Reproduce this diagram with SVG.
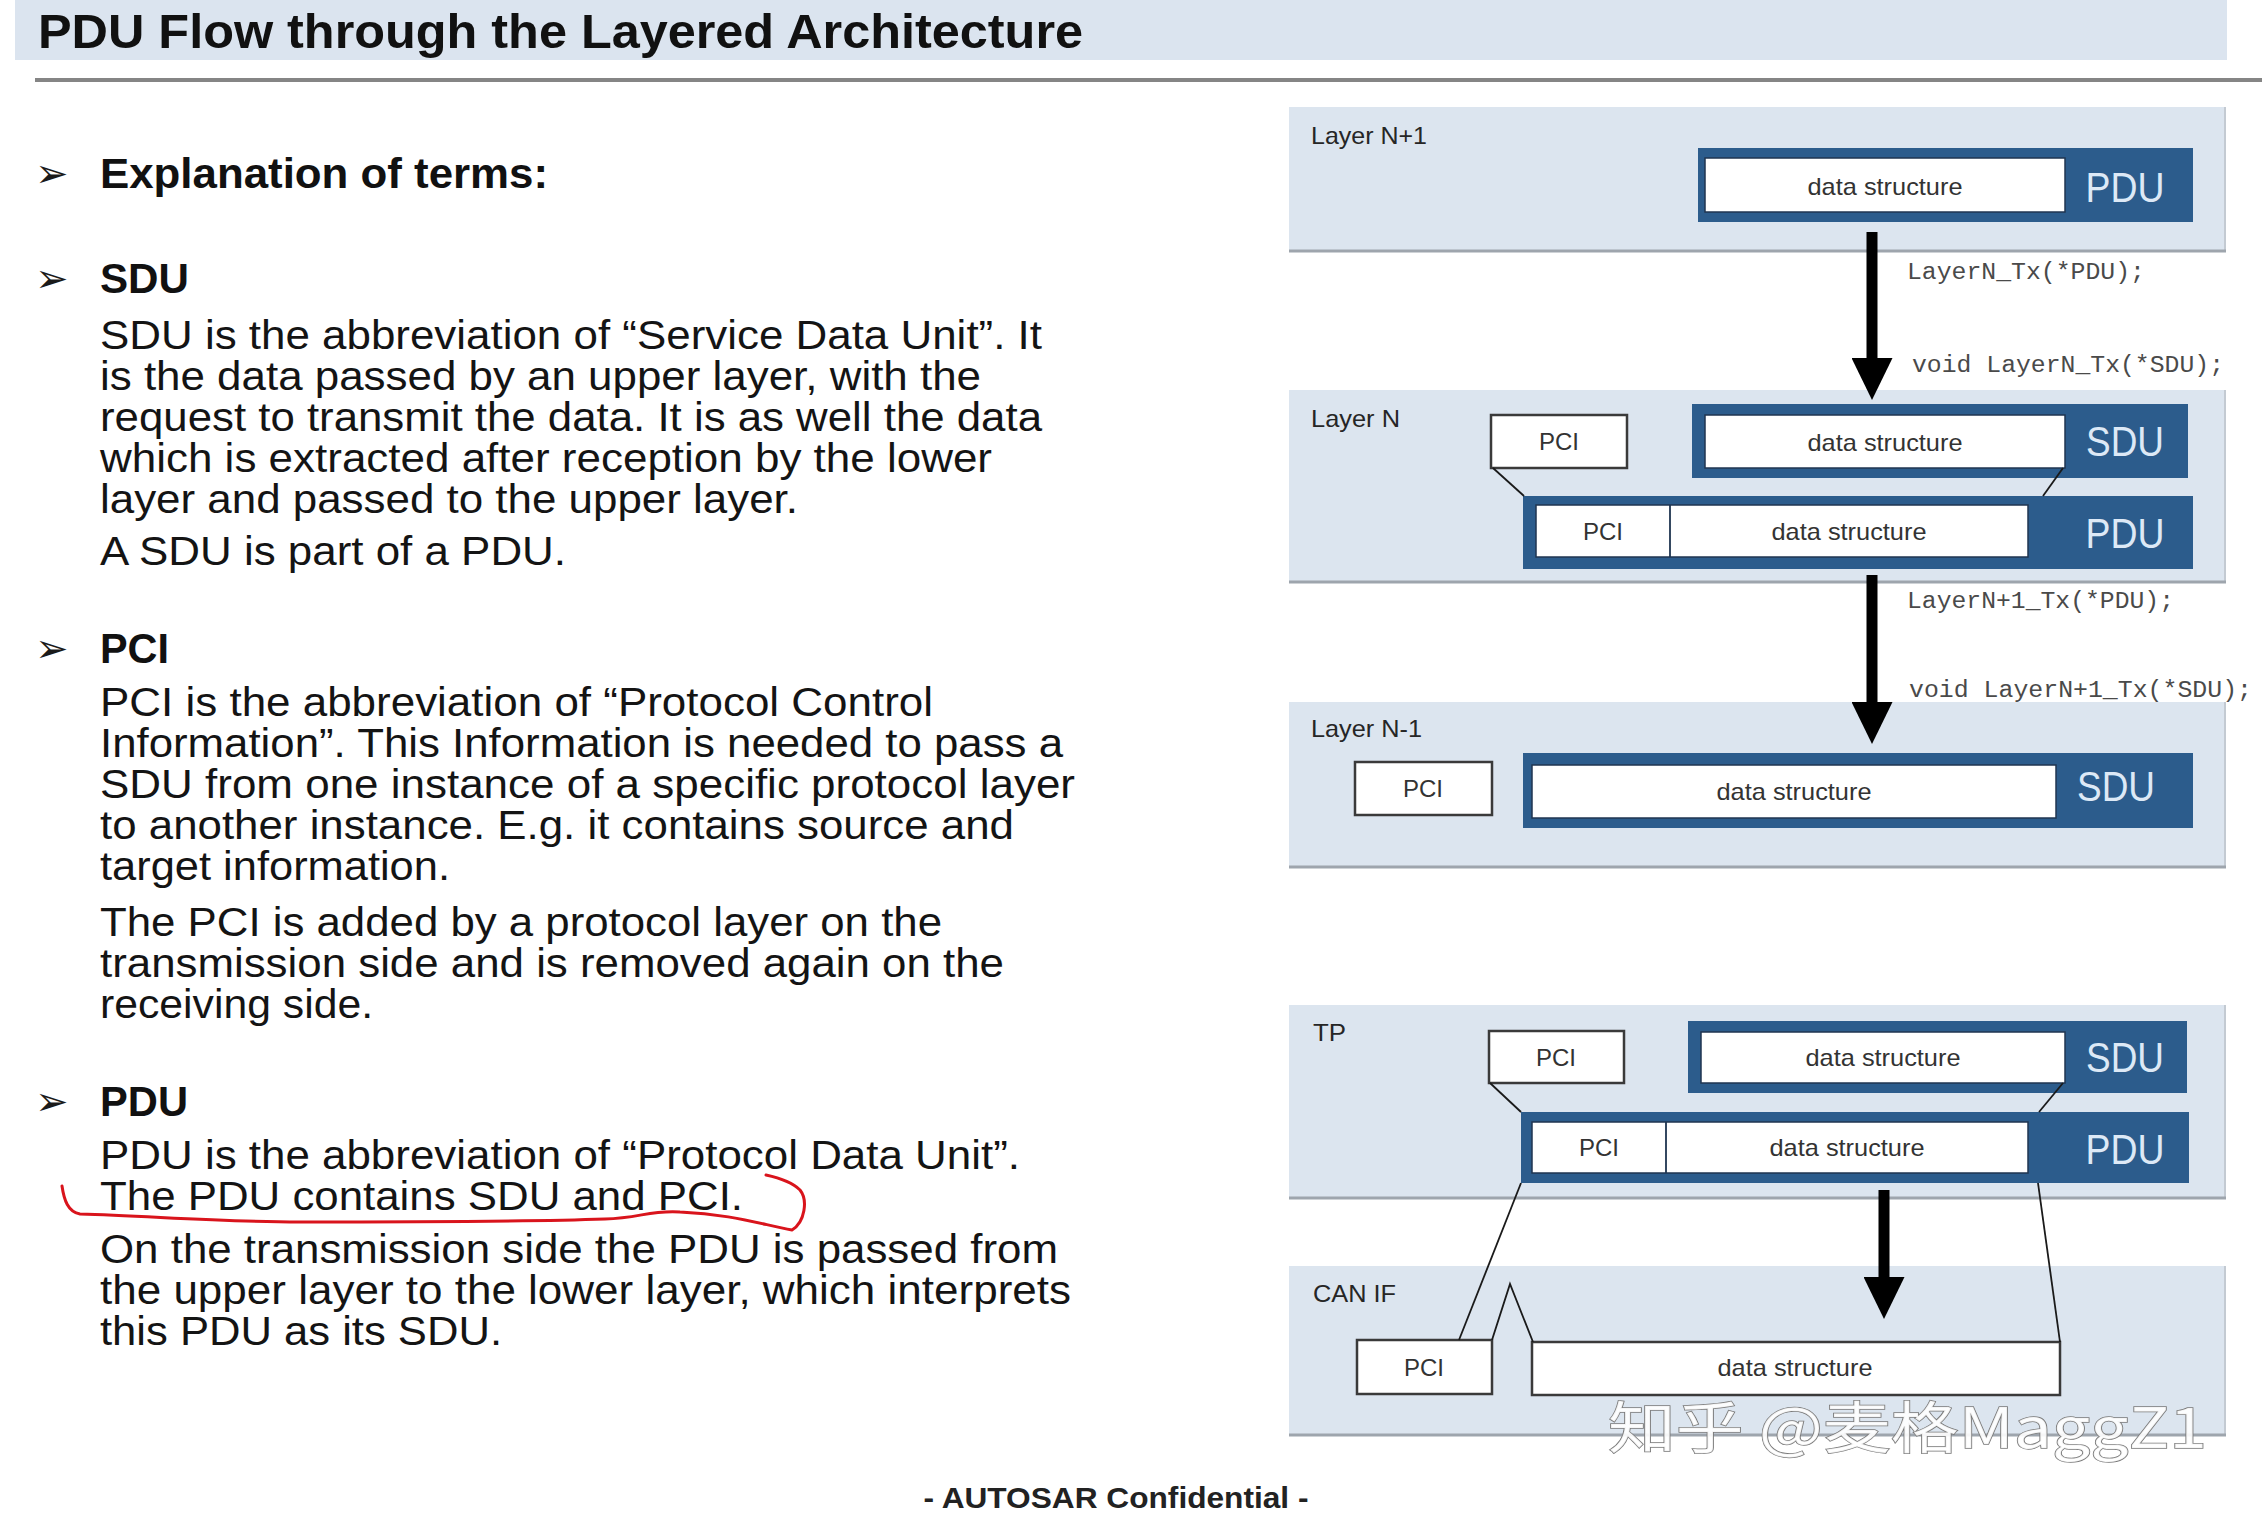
<svg xmlns="http://www.w3.org/2000/svg" width="2262" height="1520" viewBox="0 0 2262 1520">
<defs>
<marker id="ah" markerUnits="userSpaceOnUse" markerWidth="42" markerHeight="41" viewBox="0 0 42 41" refX="0" refY="20.5" orient="auto">
<path d="M0,0 L42,20.5 L0,41 z" fill="#000"/>
</marker>
</defs>
<style>
.sans{font-family:"Liberation Sans",Arial,sans-serif}
.title{font-family:"Liberation Sans",Arial,sans-serif;font-size:48px;font-weight:bold;fill:#111}
.body{font-family:"Liberation Sans",Arial,sans-serif;font-size:40px;fill:#141414}
.head{font-family:"Liberation Sans",Arial,sans-serif;font-size:43px;font-weight:bold;fill:#111}
.bul{font-family:"DejaVu Sans",sans-serif;font-size:40px;fill:#1a1a1a}
.panel{fill:#dce5ef}
.pshadow{stroke:#9ea5ad;stroke-width:3}
.pedge{stroke:#c3cad2;stroke-width:2}
.lbl{font-family:"Liberation Sans",Arial,sans-serif;font-size:24px;fill:#262626}
.blue{fill:#2c5c8c}
.white{fill:#fff;stroke:#1f3550;stroke-width:1.5}
.pci{fill:#fff;stroke:#3a3a3a;stroke-width:2.5}
.ds{font-family:"Liberation Sans",Arial,sans-serif;font-size:24px;fill:#333;text-anchor:middle}
.big{font-family:"Liberation Sans",Arial,sans-serif;font-size:42px;fill:#dde9f6;text-anchor:middle}
.code{font-family:"Liberation Mono","Courier New",monospace;font-size:23px;fill:#4a4a4a}
.conn{stroke:#1a1a1a;stroke-width:1.8;fill:none}
.arrow{stroke:#000;stroke-width:11;fill:none}
</style>
<rect x="0" y="0" width="2262" height="1520" fill="#fff"/>

<g id="header">
<rect x="15" y="0" width="2212" height="60" fill="#dbe4ef"/>
<text class="title" x="38" y="48" textLength="1045" lengthAdjust="spacingAndGlyphs">PDU Flow through the Layered Architecture</text>
<line x1="35" y1="80" x2="2262" y2="80" stroke="#858585" stroke-width="4"/>
</g>

<g id="text-explanation">
<text class="bul" x="35" y="187">➢</text>
<text class="head" x="100" y="188" textLength="448" lengthAdjust="spacingAndGlyphs">Explanation of terms:</text>
</g>

<g id="text-sdu">
<text class="bul" x="35" y="292">➢</text>
<text class="head" x="100" y="293" textLength="89" lengthAdjust="spacingAndGlyphs">SDU</text>
<text class="body" x="100" y="349" textLength="942" lengthAdjust="spacingAndGlyphs">SDU is the abbreviation of “Service Data Unit”. It</text>
<text class="body" x="100" y="390" textLength="881" lengthAdjust="spacingAndGlyphs">is the data passed by an upper layer, with the</text>
<text class="body" x="100" y="431" textLength="942" lengthAdjust="spacingAndGlyphs">request to transmit the data. It is as well the data</text>
<text class="body" x="100" y="472" textLength="892" lengthAdjust="spacingAndGlyphs">which is extracted after reception by the lower</text>
<text class="body" x="100" y="513" textLength="698" lengthAdjust="spacingAndGlyphs">layer and passed to the upper layer.</text>
<text class="body" x="100" y="565" textLength="466" lengthAdjust="spacingAndGlyphs">A SDU is part of a PDU.</text>
</g>

<g id="text-pci">
<text class="bul" x="35" y="662">➢</text>
<text class="head" x="100" y="663" textLength="69" lengthAdjust="spacingAndGlyphs">PCI</text>
<text class="body" x="100" y="716" textLength="833" lengthAdjust="spacingAndGlyphs">PCI is the abbreviation of “Protocol Control</text>
<text class="body" x="100" y="757" textLength="963" lengthAdjust="spacingAndGlyphs">Information”. This Information is needed to pass a</text>
<text class="body" x="100" y="798" textLength="975" lengthAdjust="spacingAndGlyphs">SDU from one instance of a specific protocol layer</text>
<text class="body" x="100" y="839" textLength="914" lengthAdjust="spacingAndGlyphs">to another instance. E.g. it contains source and</text>
<text class="body" x="100" y="880" textLength="350" lengthAdjust="spacingAndGlyphs">target information.</text>
<text class="body" x="100" y="936" textLength="842" lengthAdjust="spacingAndGlyphs">The PCI is added by a protocol layer on the</text>
<text class="body" x="100" y="977" textLength="904" lengthAdjust="spacingAndGlyphs">transmission side and is removed again on the</text>
<text class="body" x="100" y="1018" textLength="273" lengthAdjust="spacingAndGlyphs">receiving side.</text>
</g>

<g id="text-pdu">
<text class="bul" x="35" y="1115">➢</text>
<text class="head" x="100" y="1116" textLength="88" lengthAdjust="spacingAndGlyphs">PDU</text>
<text class="body" x="100" y="1169" textLength="920" lengthAdjust="spacingAndGlyphs">PDU is the abbreviation of “Protocol Data Unit”.</text>
<text class="body" x="100" y="1210" textLength="643" lengthAdjust="spacingAndGlyphs">The PDU contains SDU and PCI.</text>
<text class="body" x="100" y="1263" textLength="958" lengthAdjust="spacingAndGlyphs">On the transmission side the PDU is passed from</text>
<text class="body" x="100" y="1304" textLength="971" lengthAdjust="spacingAndGlyphs">the upper layer to the lower layer, which interprets</text>
<text class="body" x="100" y="1345" textLength="402" lengthAdjust="spacingAndGlyphs">this PDU as its SDU.</text>
</g>

<g id="red-underline">
<path d="M62,1186 C64,1200 68,1212 80,1214 C150,1216 220,1222 300,1222 C400,1222 520,1222 605,1219 C640,1218 650,1210 680,1212 C730,1214 760,1224 792,1230 C805,1222 808,1200 800,1190 C792,1182 780,1178 766,1175" fill="none" stroke="#d9141c" stroke-width="3" stroke-linecap="round"/>
</g>

<g id="footer">
<text class="sans" x="1116" y="1508" font-size="30" font-weight="bold" fill="#222" text-anchor="middle" textLength="385" lengthAdjust="spacingAndGlyphs">- AUTOSAR Confidential -</text>
</g>

<!-- Layer N+1 -->
<g id="layer-n-plus-1">
<rect class="panel" x="1289" y="107" width="937" height="144"/>
<line class="pedge" x1="2225" y1="107" x2="2225" y2="251"/>
<line class="pshadow" x1="1289" y1="251" x2="2226" y2="251"/>
<text class="lbl" x="1311" y="144" textLength="116" lengthAdjust="spacingAndGlyphs">Layer N+1</text>
</g>
<g id="n1-pdu">
<rect class="blue" x="1698" y="148" width="495" height="74"/>
<rect class="white" x="1705" y="158" width="360" height="54"/>
<text class="ds" x="1885" y="195" textLength="155" lengthAdjust="spacingAndGlyphs">data structure</text>
<text class="big" x="2125" y="202" textLength="79" lengthAdjust="spacingAndGlyphs">PDU</text>
</g>

<!-- Layer N -->
<g id="layer-n">
<rect class="panel" x="1289" y="390" width="937" height="192"/>
<line class="pedge" x1="2225" y1="390" x2="2225" y2="582"/>
<line class="pshadow" x1="1289" y1="582" x2="2226" y2="582"/>
<text class="lbl" x="1311" y="427" textLength="89" lengthAdjust="spacingAndGlyphs">Layer N</text>
</g>
<g id="n-pci">
<rect class="pci" x="1491" y="415" width="136" height="53"/>
<text class="ds" x="1559" y="450" textLength="40" lengthAdjust="spacingAndGlyphs">PCI</text>
</g>
<g id="n-sdu">
<rect class="blue" x="1692" y="404" width="496" height="74"/>
<rect class="white" x="1705" y="415" width="360" height="53"/>
<text class="ds" x="1885" y="451" textLength="155" lengthAdjust="spacingAndGlyphs">data structure</text>
<text class="big" x="2125" y="456" textLength="78" lengthAdjust="spacingAndGlyphs">SDU</text>
</g>
<g id="n-pdu">
<rect class="blue" x="1523" y="496" width="670" height="73"/>
<rect class="white" x="1536" y="505" width="492" height="52"/>
<line x1="1670" y1="505" x2="1670" y2="557" stroke="#1f3550" stroke-width="1.8"/>
<text class="ds" x="1603" y="540" textLength="40" lengthAdjust="spacingAndGlyphs">PCI</text>
<text class="ds" x="1849" y="540" textLength="155" lengthAdjust="spacingAndGlyphs">data structure</text>
<text class="big" x="2125" y="548" textLength="79" lengthAdjust="spacingAndGlyphs">PDU</text>
</g>

<!-- Layer N-1 -->
<g id="layer-n-minus-1">
<rect class="panel" x="1289" y="702" width="937" height="165"/>
<line class="pedge" x1="2225" y1="702" x2="2225" y2="867"/>
<line class="pshadow" x1="1289" y1="867" x2="2226" y2="867"/>
<text class="lbl" x="1311" y="737" textLength="111" lengthAdjust="spacingAndGlyphs">Layer N-1</text>
</g>
<g id="nm1-pci">
<rect class="pci" x="1355" y="762" width="137" height="53"/>
<text class="ds" x="1423" y="797" textLength="40" lengthAdjust="spacingAndGlyphs">PCI</text>
</g>
<g id="nm1-sdu">
<rect class="blue" x="1523" y="753" width="670" height="75"/>
<rect class="white" x="1532" y="765" width="524" height="53"/>
<text class="ds" x="1794" y="800" textLength="155" lengthAdjust="spacingAndGlyphs">data structure</text>
<text class="big" x="2116" y="801" textLength="78" lengthAdjust="spacingAndGlyphs">SDU</text>
</g>

<!-- TP -->
<g id="layer-tp">
<rect class="panel" x="1289" y="1005" width="937" height="193"/>
<line class="pedge" x1="2225" y1="1005" x2="2225" y2="1198"/>
<line class="pshadow" x1="1289" y1="1198" x2="2226" y2="1198"/>
<text class="lbl" x="1313" y="1041" textLength="33" lengthAdjust="spacingAndGlyphs">TP</text>
</g>
<g id="tp-pci">
<rect class="pci" x="1489" y="1031" width="135" height="52"/>
<text class="ds" x="1556" y="1066" textLength="40" lengthAdjust="spacingAndGlyphs">PCI</text>
</g>
<g id="tp-sdu">
<rect class="blue" x="1688" y="1021" width="499" height="72"/>
<rect class="white" x="1701" y="1032" width="364" height="51"/>
<text class="ds" x="1883" y="1066" textLength="155" lengthAdjust="spacingAndGlyphs">data structure</text>
<text class="big" x="2125" y="1072" textLength="78" lengthAdjust="spacingAndGlyphs">SDU</text>
</g>
<g id="tp-pdu">
<rect class="blue" x="1521" y="1112" width="668" height="71"/>
<rect class="white" x="1532" y="1122" width="496" height="51"/>
<line x1="1666" y1="1122" x2="1666" y2="1173" stroke="#1f3550" stroke-width="1.8"/>
<text class="ds" x="1599" y="1156" textLength="40" lengthAdjust="spacingAndGlyphs">PCI</text>
<text class="ds" x="1847" y="1156" textLength="155" lengthAdjust="spacingAndGlyphs">data structure</text>
<text class="big" x="2125" y="1164" textLength="79" lengthAdjust="spacingAndGlyphs">PDU</text>
</g>

<!-- CAN IF -->
<g id="layer-canif">
<rect class="panel" x="1289" y="1266" width="937" height="169"/>
<line class="pedge" x1="2225" y1="1266" x2="2225" y2="1435"/>
<line class="pshadow" x1="1289" y1="1435" x2="2226" y2="1435"/>
<text class="lbl" x="1313" y="1302" textLength="83" lengthAdjust="spacingAndGlyphs">CAN IF</text>
</g>
<g id="canif-pci">
<rect class="pci" x="1357" y="1340" width="135" height="54"/>
<text class="ds" x="1424" y="1376" textLength="40" lengthAdjust="spacingAndGlyphs">PCI</text>
</g>
<g id="canif-data">
<rect class="pci" x="1532" y="1342" width="528" height="53"/>
<text class="ds" x="1795" y="1376" textLength="155" lengthAdjust="spacingAndGlyphs">data structure</text>
</g>

<g id="connectors">
<line class="arrow" x1="1872" y1="232" x2="1872" y2="358" marker-end="url(#ah)"/>
<line class="arrow" x1="1872" y1="575" x2="1872" y2="702" marker-end="url(#ah)"/>
<line class="arrow" x1="1884" y1="1190" x2="1884" y2="1277" marker-end="url(#ah)"/>
<text class="code" x="1907" y="279" textLength="238" lengthAdjust="spacingAndGlyphs">LayerN_Tx(*PDU);</text>
<text class="code" x="1912" y="372" textLength="312" lengthAdjust="spacingAndGlyphs">void LayerN_Tx(*SDU);</text>
<text class="code" x="1907" y="608" textLength="267" lengthAdjust="spacingAndGlyphs">LayerN+1_Tx(*PDU);</text>
<text class="code" x="1909" y="697" textLength="343" lengthAdjust="spacingAndGlyphs">void LayerN+1_Tx(*SDU);</text>
<line class="conn" x1="1493" y1="468" x2="1524" y2="496"/>
<line class="conn" x1="2063" y1="468" x2="2043" y2="496"/>
<line class="conn" x1="1490" y1="1083" x2="1521" y2="1112"/>
<line class="conn" x1="2063" y1="1083" x2="2039" y2="1112"/>
<line class="conn" x1="1521" y1="1183" x2="1459" y2="1340"/>
<polyline class="conn" points="1492,1340 1510,1284 1533,1342"/>
<line class="conn" x1="2038" y1="1183" x2="2060" y2="1342"/>
</g>

<g id="watermark">
<text x="1608" y="1448" font-family="'Noto Sans CJK SC','Noto Sans',sans-serif" font-size="56" fill="#ffffff" fill-opacity="0.9" stroke="#7a7a7a" stroke-width="1.5" paint-order="stroke" textLength="599" lengthAdjust="spacingAndGlyphs">知乎 @麦格MaggZ1</text>
</g>
</svg>
